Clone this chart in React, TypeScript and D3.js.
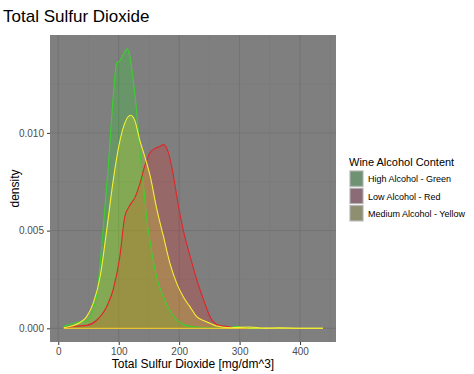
import React, {useEffect, useRef} from "react";
import * as d3 from 'd3';

const WIDTH = 474;
const HEIGHT = 374;
const PANEL = {left: 50, right: 336, top: 35, bottom: 342};

const X_TICKS = [0, 100, 200, 300, 400];
const Y_TICKS = [0, 0.005, 0.01];

// density estimates: [total SO2, density]
const highAlcohol: [number, number][] = [
    [9, 0.0001], [30, 0.0003], [47, 0.0004], [63, 0.0016], [74, 0.005], [83, 0.0084],
    [91, 0.0119], [96.5, 0.01356], [102, 0.0137], [110, 0.01416], [114, 0.0143],
    [118.5, 0.0139], [124, 0.0127], [130, 0.011], [135, 0.0091], [141, 0.0073],
    [146, 0.0057], [152, 0.0044], [163, 0.0026], [174, 0.0016], [185, 0.0009],
    [201, 0.0003], [218, 0.0001], [250, 0.00003], [282, 0.00002], [295, 0.0001],
    [308, 0.00002], [330, 0]
];
const lowAlcohol: [number, number][] = [
    [9, 0], [25, 0.0001], [47, 0.00015], [63, 0.0004], [80, 0.0011], [91, 0.002],
    [102, 0.0037], [110, 0.0057], [118.5, 0.0063], [127, 0.0067], [135, 0.0074],
    [143, 0.0083], [152, 0.009], [160, 0.0092], [168, 0.0093], [174, 0.0094], [182, 0.009],
    [190, 0.0079], [198, 0.0064], [207, 0.005], [218, 0.0037], [229, 0.0025],
    [240, 0.0015], [251, 0.0006], [262, 0.0002], [278, 0.0001], [295, 0.00002], [313, 0]
];
const mediumAlcohol: [number, number][] = [
    [9, 0.00003], [36, 0.0003], [47, 0.0006], [58, 0.0013], [69, 0.0026], [80, 0.005],
    [91, 0.0076], [102, 0.0096], [110, 0.0105], [120, 0.0109], [127, 0.0106],
    [135, 0.0096], [143, 0.0088], [152, 0.0078], [163, 0.0061], [174, 0.0047],
    [185, 0.0033], [196, 0.0023], [207, 0.0016], [218, 0.0011], [229, 0.0006],
    [240, 0.0004], [251, 0.00026], [262, 0.00012], [284, 0.00003], [317, 0.00007],
    [340, 0.00001], [366, 0.00003], [400, 0], [438, 0]
];

const SERIES = [
    {name: "High Alcohol - Green", data: highAlcohol, line: "#3ccf2e", fill: "#00ff00", key: "#6f9273"},
    {name: "Low Alcohol - Red", data: lowAlcohol, line: "#e0262a", fill: "#ff0000", key: "#8b6c76"},
    {name: "Medium Alcohol - Yellow", data: mediumAlcohol, line: "#f5f032", fill: "#ffff00", key: "#8e8f70"},
];

export default function App() {
    const ref = useRef(null);

    useEffect(() => {
        const svg = d3.select(ref.current);
        svg.selectAll('*').remove();

        const x = d3.scaleLinear().domain([-13.7, 459.5]).range([PANEL.left, PANEL.right]);
        const y = d3.scaleLinear().domain([-0.0007, 0.01501]).range([PANEL.bottom, PANEL.top]);

        svg.append('rect')
            .attr('x', PANEL.left).attr('y', PANEL.top)
            .attr('width', PANEL.right - PANEL.left).attr('height', PANEL.bottom - PANEL.top)
            .attr('fill', '#7f7f7f');

        // grid
        const minorX = [50, 150, 250, 350, 450].filter(v => x(v) < PANEL.right);
        const minorY = [0.0025, 0.0075, 0.0125];
        const grid = svg.append('g');
        minorX.forEach(v => grid.append('line').attr('x1', x(v)).attr('x2', x(v))
            .attr('y1', PANEL.top).attr('y2', PANEL.bottom).attr('stroke', '#7a7a7a').attr('stroke-width', 0.5));
        minorY.forEach(v => grid.append('line').attr('y1', y(v)).attr('y2', y(v))
            .attr('x1', PANEL.left).attr('x2', PANEL.right).attr('stroke', '#7a7a7a').attr('stroke-width', 0.5));
        X_TICKS.forEach(v => grid.append('line').attr('x1', x(v)).attr('x2', x(v))
            .attr('y1', PANEL.top).attr('y2', PANEL.bottom).attr('stroke', '#737373').attr('stroke-width', 1));
        Y_TICKS.forEach(v => grid.append('line').attr('y1', y(v)).attr('y2', y(v))
            .attr('x1', PANEL.left).attr('x2', PANEL.right).attr('stroke', '#737373').attr('stroke-width', 1));

        const area = d3.area<[number, number]>()
            .x(d => x(d[0])).y0(y(0)).y1(d => y(d[1]))
            .curve(d3.curveMonotoneX);
        const line = d3.line<[number, number]>()
            .x(d => x(d[0])).y(d => y(d[1]))
            .curve(d3.curveMonotoneX);

        SERIES.forEach(s => {
            svg.append('path').datum(s.data).attr('d', area)
                .attr('fill', s.fill).attr('fill-opacity', 0.18);
        });
        SERIES.forEach(s => {
            svg.append('path').datum(s.data).attr('d', line)
                .attr('fill', 'none').attr('stroke', s.line).attr('stroke-width', 1.1);
            svg.append('line')
                .attr('x1', x(s.data[0][0])).attr('x2', x(s.data[s.data.length - 1][0]))
                .attr('y1', y(0)).attr('y2', y(0))
                .attr('stroke', s.line).attr('stroke-width', 1.1);
        });

        const font = 'Liberation Sans, Arial, sans-serif';

        // axes
        const xAxis = svg.append('g')
            .attr('transform', `translate(0,${PANEL.bottom})`)
            .call(d3.axisBottom(x).tickValues(X_TICKS).tickSize(3).tickPadding(3).tickFormat(d3.format('d')));
        const yAxis = svg.append('g')
            .attr('transform', `translate(${PANEL.left},0)`)
            .call(d3.axisLeft(y).tickValues(Y_TICKS).tickSize(3).tickPadding(3).tickFormat(d3.format('.3f')));
        [xAxis, yAxis].forEach(a => {
            a.select('.domain').remove();
            a.selectAll('line').attr('stroke', '#333333');
            a.selectAll('text').attr('fill', '#4d4d4d').style('font-family', font).style('font-size', '10px');
        });

        svg.append('text')
            .attr('x', 3).attr('y', 22)
            .style('font-family', font).style('font-size', '17px').attr('fill', '#000')
            .text('Total Sulfur Dioxide');
        svg.append('text')
            .attr('x', (PANEL.left + PANEL.right) / 2).attr('y', 368)
            .attr('text-anchor', 'middle')
            .style('font-family', font).style('font-size', '12px').attr('fill', '#000')
            .text('Total Sulfur Dioxide [mg/dm^3]');
        svg.append('text')
            .attr('transform', `translate(19,${(PANEL.top + PANEL.bottom) / 2}) rotate(-90)`)
            .attr('text-anchor', 'middle')
            .style('font-family', font).style('font-size', '12px').attr('fill', '#000')
            .text('density');

        // legend
        const lg = svg.append('g').attr('transform', 'translate(349,0)');
        lg.append('text').attr('x', 0).attr('y', 166)
            .style('font-family', font).style('font-size', '11px').attr('fill', '#000')
            .text('Wine Alcohol Content');
        SERIES.forEach((s, i) => {
            const top = 170 + i * 17.3;
            lg.append('rect').attr('x', 0).attr('y', top).attr('width', 15).attr('height', 17.3)
                .attr('fill', '#f2f2f2');
            lg.append('rect').attr('x', 1).attr('y', top + 1).attr('width', 13).attr('height', 15.3)
                .attr('fill', s.key).attr('stroke', '#b5b5b5').attr('stroke-width', 1);
            lg.append('text').attr('x', 19).attr('y', top + 12.3)
                .style('font-family', font).style('font-size', '9px').attr('fill', '#000')
                .text(s.name);
        });
    }, []);

    return (
        <svg ref={ref} width={WIDTH} height={HEIGHT}
             style={{position: 'absolute', left: 0, top: 0, background: '#fff'}}/>
    );
}
